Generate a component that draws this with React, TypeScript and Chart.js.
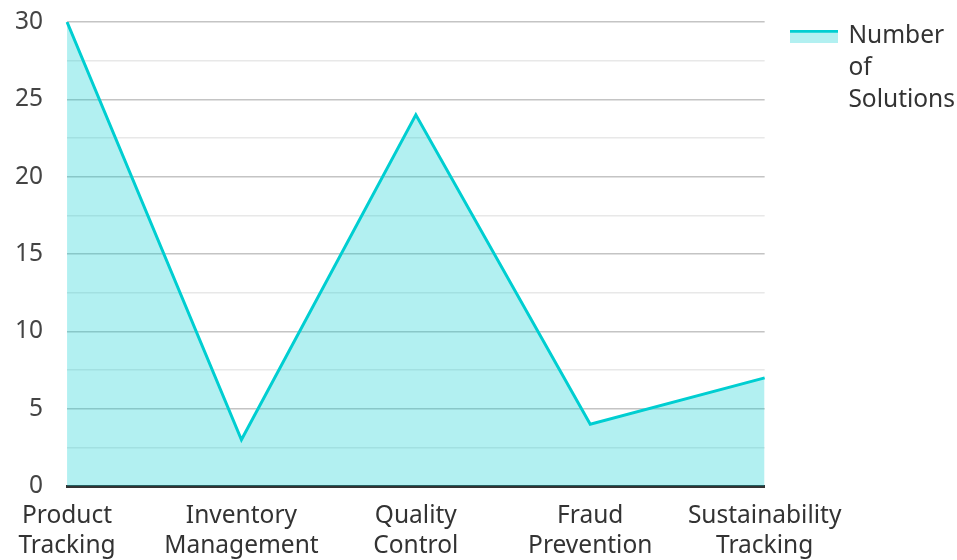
import React, { useEffect, useRef } from "react";
import { Chart, registerables } from "chart.js";
Chart.register(...registerables);

const categories: string[][] = [
  ["Product", "Tracking"],
  ["Inventory", "Management"],
  ["Quality", "Control"],
  ["Fraud", "Prevention"],
  ["Sustainability", "Tracking"],
];
const seriesLabel = ["Number", "of", "Solutions"];
const values: number[] = [30, 3, 24, 4, 7];
const yMax = 30;
const yStep = 2.5;

const LINE = "#00CED1";
const FILL = "rgba(0,206,209,0.3)";
const FONT = "'Noto Sans', sans-serif";

export default function App() {
  const ref = useRef<HTMLCanvasElement | null>(null);
  useEffect(() => {
    document.body.style.margin = "0";
    const legendImg = document.createElement("canvas");
    legendImg.width = 48;
    legendImg.height = 13;
    const c = legendImg.getContext("2d")!;
    c.fillStyle = FILL;
    c.fillRect(0, 0, 48, 13);
    c.fillStyle = LINE;
    c.fillRect(0, 0, 48, 3);

    const chart = new Chart(ref.current!, {
      type: "line",
      data: {
        labels: categories,
        datasets: [
          {
            label: seriesLabel.join(" "),
            data: values,
            borderColor: LINE,
            backgroundColor: FILL,
            borderWidth: 3,
            fill: true,
            pointRadius: 0,
            tension: 0,
          },
        ],
      },
      options: {
        animation: false,
        responsive: true,
        maintainAspectRatio: false,
        layout: { padding: { top: -4, left: -9, right: -8, bottom: 0 } },
        plugins: {
          tooltip: { enabled: false },
          legend: {
            position: "right",
            align: "start",
            labels: {
              color: "#333",
              font: { family: FONT, size: 24.5, lineHeight: 1.3 },
              usePointStyle: true,
              pointStyleWidth: 43.5,
              padding: 28,
              generateLabels: (ch: any) =>
                ch.data.datasets.map((ds: any, i: number) => ({
                  text: seriesLabel,
                  fillStyle: FILL,
                  strokeStyle: LINE,
                  lineWidth: 0,
                  pointStyle: legendImg,
                  hidden: false,
                  datasetIndex: i,
                  fontColor: "#333",
                })),
            },
          },
        },
        scales: {
          x: {
            grid: { display: false, drawTicks: false },
            border: { display: true, color: "#333", width: 3 },
            ticks: {
              color: "#333",
              font: { family: FONT, size: 24.5, lineHeight: 1.22 },
              padding: 15,
              maxRotation: 0,
              autoSkip: false,
            },
          },
          y: {
            min: 0,
            max: yMax,
            border: { display: false },
            afterFit: (s: any) => {
              s.paddingTop = 22;
            },
            grid: {
              drawTicks: false,
              lineWidth: 1.5,
              color: (ctx: any) =>
                ctx.tick && ctx.tick.value % 5 === 0 ? "#c4c4c4" : "#e8e8e8",
            },
            ticks: {
              stepSize: yStep,
              color: "#444",
              padding: 24,
              font: { family: FONT, size: 24.5 },
              callback: (v: any) => (Number(v) % 5 === 0 ? String(v) : ""),
            },
          },
        },
      },
    });
    return () => chart.destroy();
  }, []);
  return (
    <div style={{ position: "relative", width: 957, height: 576 }}>
      <canvas ref={ref} />
    </div>
  );
}
